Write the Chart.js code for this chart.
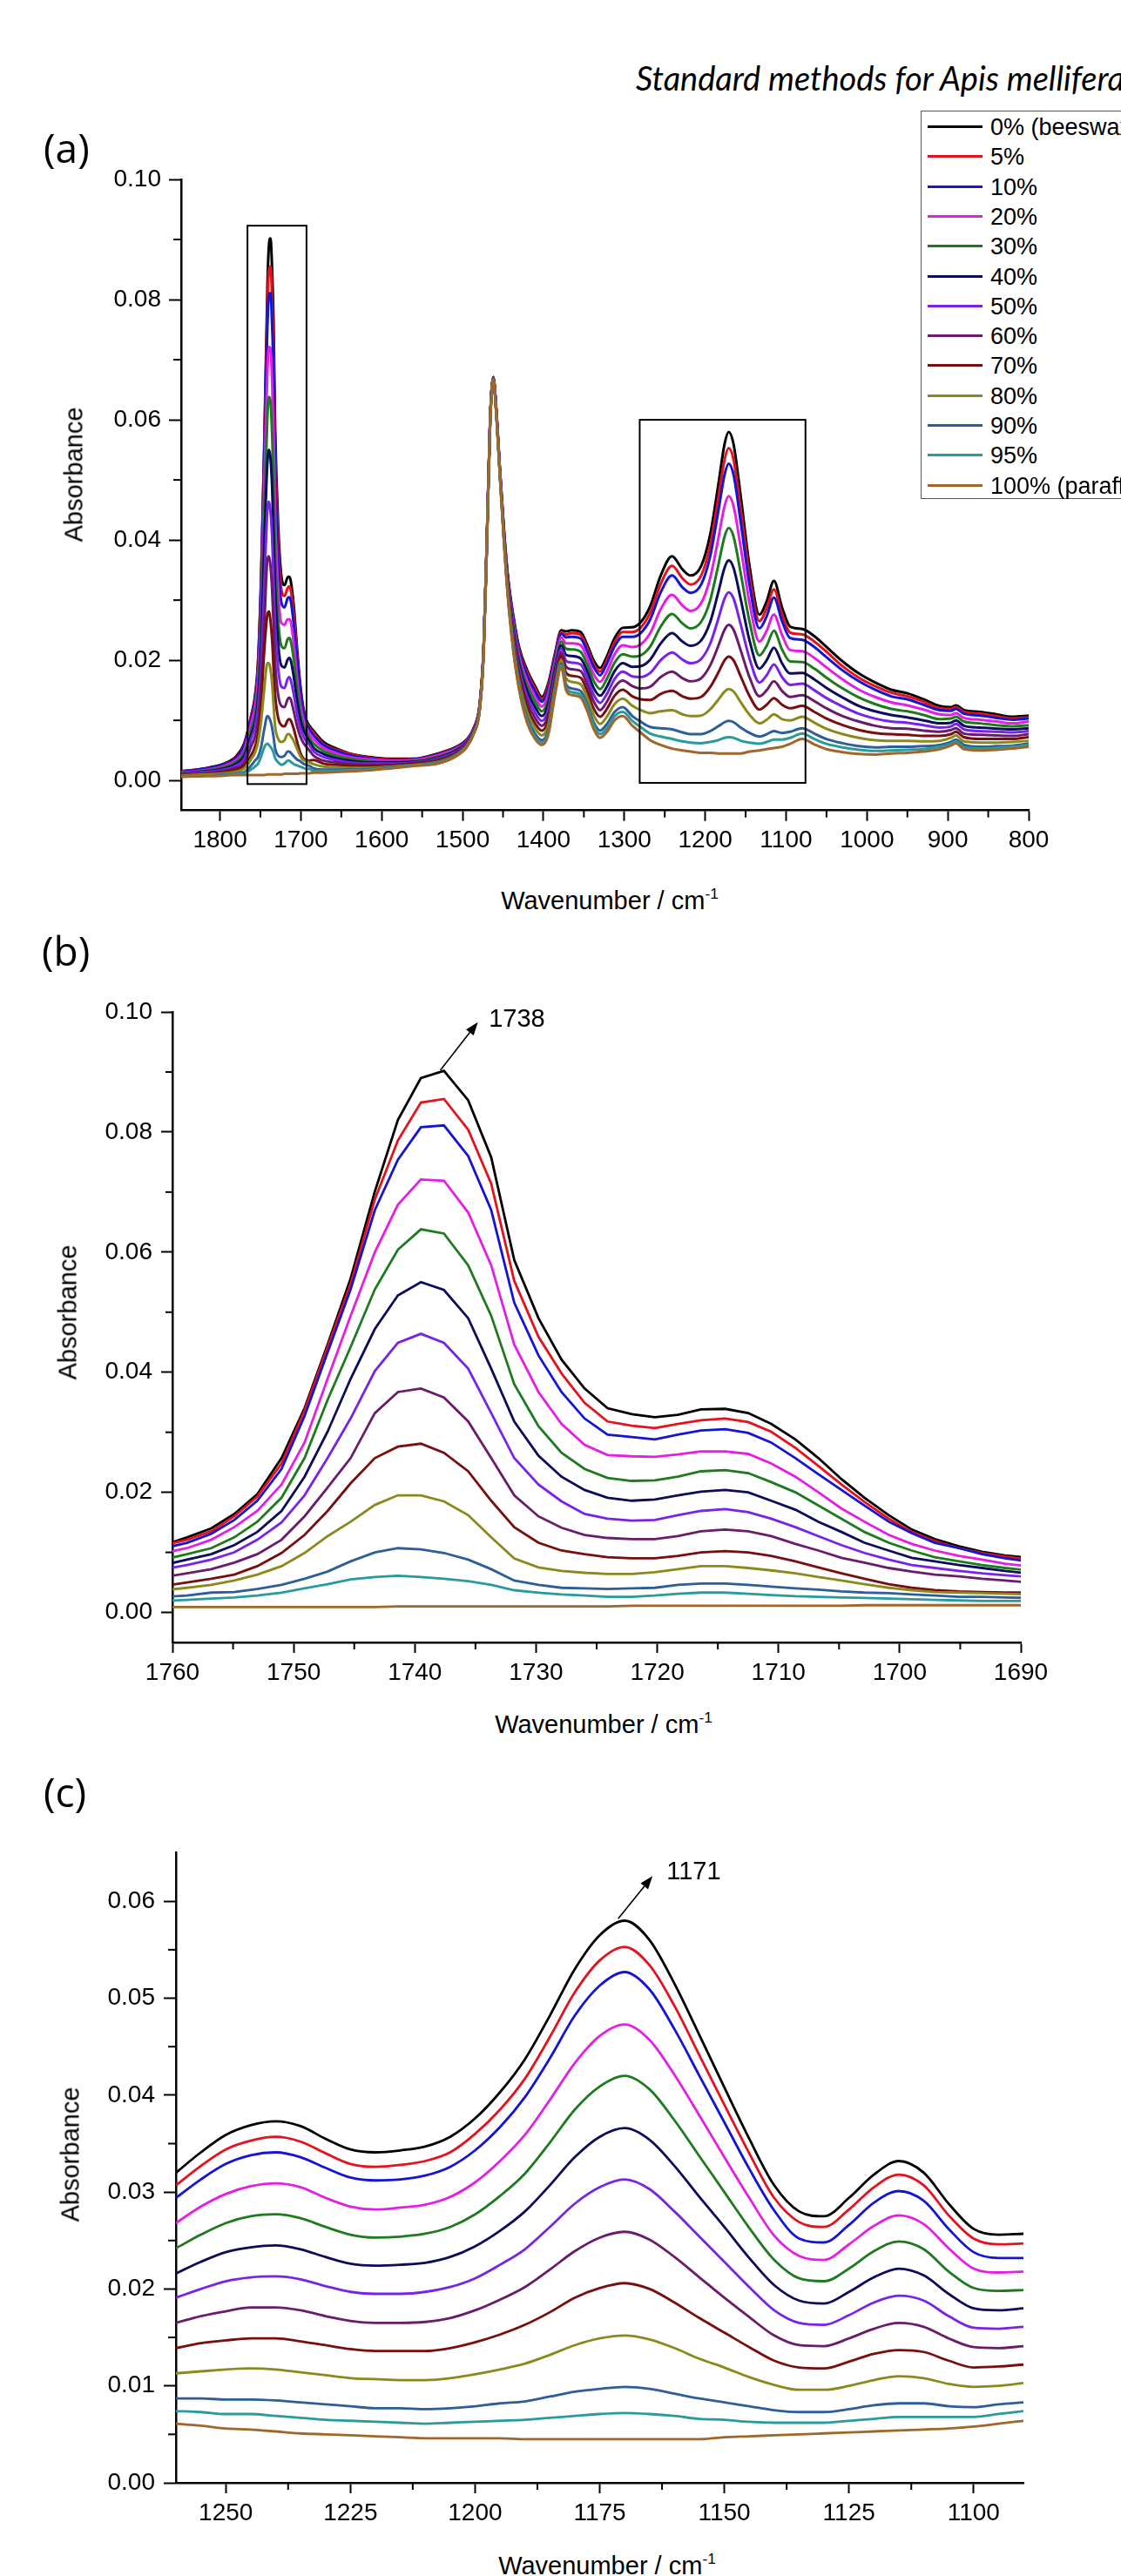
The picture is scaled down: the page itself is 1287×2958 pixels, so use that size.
<!DOCTYPE html>
<html>
<head>
<meta charset="utf-8">
<script src="https://cdn.jsdelivr.net/npm/chart.js@4.4.1/dist/chart.umd.min.js"></script>
<style>
html,body{margin:0;padding:0;background:#fff;}
body{width:1287px;height:2958px;overflow:hidden;position:relative;font-family:'Liberation Sans',Arial,sans-serif;color:#000;}
canvas{position:absolute;left:0;z-index:1;}
.t{position:absolute;white-space:nowrap;line-height:1;z-index:2;}
.yt{font-size:29px;transform:translate(-50%,-50%) rotate(-90deg);}
.xt{font-size:29px;transform:translate(-50%,-50%);}
.xt sup{font-size:0.6em;vertical-align:baseline;position:relative;top:-0.7em;}
.pl{font-family:'Open Sans',sans-serif;font-size:46px;}
.hd{font-family:Lato,'Open Sans',sans-serif;font-style:italic;font-size:38px;}
#legend{position:absolute;left:1057px;top:127px;width:300px;height:446px;border:1.5px solid #555;background:#fff;z-index:2;box-sizing:border-box;}
.li{position:absolute;left:7px;height:34px;width:290px;font-size:27px;line-height:34px;white-space:nowrap;}
.li span.sw{position:absolute;left:0;top:15px;width:63px;height:3px;}
.li span.lb{position:absolute;left:72px;top:0;}
</style>
</head>
<body>
<div class="t hd" style="left:730px;top:70px;">Standard methods for Apis mellifera</div>
<div class="t pl" style="left:50px;top:146px;">(a)</div>
<div class="t pl" style="left:48px;top:1068px;">(b)</div>
<div class="t pl" style="left:50px;top:2034px;">(c)</div>
<div class="t yt" style="left:85px;top:545px;">Absorbance</div>
<div class="t xt" style="left:700px;top:1034px;">Wavenumber / cm<sup>-1</sup></div>
<div class="t yt" style="left:78px;top:1507px;">Absorbance</div>
<div class="t xt" style="left:693px;top:1980px;">Wavenumber / cm<sup>-1</sup></div>
<div class="t yt" style="left:81px;top:2474px;">Absorbance</div>
<div class="t xt" style="left:697px;top:2946px;">Wavenumber / cm<sup>-1</sup></div>
<div id="legend"></div>
<canvas id="ca" width="1287" height="840" style="top:150px;"></canvas>
<canvas id="cb" width="1287" height="840" style="top:1100px;"></canvas>
<canvas id="cc" width="1287" height="830" style="top:2080px;"></canvas>
<script>
// ---------- series ----------
const seriesLabels = ['0% (beeswax)','5%','10%','20%','30%','40%','50%','60%','70%','80%','90%','95%','100% (paraffin)'];
const seriesColors = ['#000000','#e3121c','#1414d4','#e41ee4','#1e7a1e','#0c0c5a','#7824e8','#6a1c6a','#780e0e','#8a8a1c','#2e5e9a','#2a9a9a','#a0662a'];

// ---------- panel (a): full spectrum ----------
const waveA = [1850,1820,1795,1780,1770,
1760.7,1756.8,1753.0,1749.1,1745.3,1741.4,1739.5,1737.6,1735.6,1733.7,1731.8,1727.9,1724.1,1720.2,1716.4,1714.4,1712.5,1708.6,1704.8,1700.9,1697.1,1693.2,1689.4,
1684,1672,1656,1640,1615,1590,1560,1530,1508,1495,
1486,1479,1474,1470,1466,1462,1458,1454,1449,1444,
1437,1430,1420,1410,1402,1394,1386,1378,1372,1365,
1354,1346,1338,1330,1322,1312,1302,1290,1280,1268,
1255,1241,1228,1218,1205,1194,1184,1176,1171,1165,
1156,1145,1133,1124,1115,1105,1095,1080,1065,1050,
1030,1010,990,970,950,930,910,896,890,880,
860,840,820,800];

const a00 = [.0015,.0020,.0028,.0040,.0062,
.0112,.0140,.0197,.0340,.0556,.0820,.0890,.0902,.0853,.0758,.0587,.0421,.0340,.0325,.0338,.0339,.0332,.0288,.0222,.0162,.0122,.0101,.0091,
.0082,.0064,.0053,.0045,.0039,.0036,.0036,.0045,.0056,.0068,
.0088,.0125,.0220,.0400,.0600,.0671,.0610,.0520,.0420,.0340,
.0272,.0221,.0183,.0156,.0139,.0162,.0210,.0250,.0248,.0250,
.0247,.0226,.0200,.0187,.0205,.0237,.0254,.0255,.0263,.0290,
.0341,.0373,.0351,.0341,.0357,.0408,.0490,.0560,.0580,.0560,
.0472,.0355,.0276,.0298,.0332,.0288,.0256,.0252,.0240,.0222,
.0198,.0178,.0163,.0151,.0145,.0135,.0124,.0122,.0125,.0117,
.0114,.0110,.0106,.0108];
const a05 = [.0015,.0019,.0027,.0038,.0059,
.0112,.0135,.0193,.0336,.0547,.0786,.0849,.0855,.0804,.0714,.0552,.0398,.0318,.0307,.0320,.0323,.0317,.0274,.0213,.0156,.0119,.0099,.0088,
.0079,.0061,.0051,.0044,.0038,.0035,.0035,.0044,.0055,.0067,
.0088,.0125,.0220,.0400,.0600,.0671,.0610,.0520,.0419,.0338,
.0269,.0217,.0179,.0152,.0135,.0158,.0207,.0247,.0243,.0245,
.0242,.0221,.0194,.0181,.0199,.0230,.0247,.0247,.0254,.0279,
.0327,.0357,.0336,.0326,.0341,.0390,.0468,.0534,.0553,.0534,
.0451,.0340,.0265,.0286,.0318,.0276,.0246,.0243,.0231,.0214,
.0190,.0171,.0157,.0146,.0140,.0131,.0120,.0119,.0122,.0114,
.0111,.0107,.0103,.0105];
const a10 = [.0014,.0019,.0026,.0037,.0057,
.0107,.0131,.0186,.0327,.0538,.0754,.0808,.0811,.0760,.0670,.0516,.0367,.0296,.0288,.0303,.0305,.0299,.0257,.0204,.0151,.0116,.0097,.0085,
.0075,.0059,.0049,.0042,.0037,.0034,.0035,.0043,.0054,.0067,
.0087,.0124,.0219,.0399,.0599,.0671,.0609,.0519,.0418,.0337,
.0266,.0214,.0174,.0147,.0131,.0153,.0203,.0244,.0238,.0239,
.0236,.0215,.0189,.0175,.0193,.0223,.0239,.0239,.0245,.0268,
.0313,.0341,.0321,.0312,.0326,.0372,.0446,.0509,.0527,.0509,
.0429,.0324,.0253,.0273,.0304,.0265,.0237,.0234,.0222,.0205,
.0183,.0165,.0151,.0140,.0135,.0126,.0117,.0116,.0119,.0111,
.0108,.0104,.0101,.0103];
const a20 = [.0013,.0017,.0024,.0034,.0051,
.0099,.0121,.0169,.0283,.0494,.0679,.0721,.0719,.0666,.0578,.0446,.0314,.0262,.0259,.0268,.0268,.0264,.0226,.0173,.0129,.0103,.0088,.0077,
.0068,.0054,.0045,.0039,.0035,.0033,.0034,.0042,.0053,.0065,
.0086,.0123,.0218,.0398,.0598,.0670,.0609,.0518,.0416,.0333,
.0260,.0207,.0165,.0138,.0123,.0145,.0196,.0238,.0228,.0228,
.0225,.0204,.0177,.0164,.0180,.0210,.0225,.0222,.0226,.0245,
.0285,.0309,.0291,.0282,.0295,.0336,.0401,.0457,.0473,.0457,
.0387,.0294,.0231,.0249,.0276,.0242,.0217,.0215,.0204,.0188,
.0168,.0151,.0139,.0130,.0125,.0118,.0110,.0109,.0112,.0104,
.0101,.0098,.0095,.0098];
const a30 = [.0012,.0016,.0022,.0031,.0046,
.0088,.0107,.0151,.0257,.0442,.0604,.0638,.0631,.0578,.0494,.0380,.0266,.0224,.0220,.0235,.0237,.0232,.0200,.0156,.0116,.0092,.0079,.0070,
.0061,.0049,.0041,.0036,.0032,.0031,.0032,.0040,.0051,.0064,
.0085,.0122,.0218,.0397,.0598,.0670,.0608,.0517,.0414,.0330,
.0254,.0200,.0157,.0130,.0115,.0136,.0189,.0231,.0219,.0218,
.0214,.0193,.0166,.0152,.0168,.0196,.0210,.0206,.0208,.0223,
.0256,.0277,.0261,.0253,.0264,.0299,.0357,.0406,.0420,.0406,
.0344,.0263,.0208,.0224,.0249,.0218,.0198,.0197,.0186,.0171,
.0153,.0138,.0127,.0119,.0115,.0109,.0102,.0103,.0106,.0098,
.0095,.0092,.0090,.0092];
const a40 = [.0011,.0015,.0020,.0028,.0041,
.0079,.0097,.0134,.0226,.0389,.0528,.0550,.0537,.0490,.0406,.0318,.0226,.0191,.0188,.0201,.0204,.0200,.0171,.0134,.0103,.0085,.0074,.0065,
.0054,.0044,.0037,.0033,.0030,.0030,.0031,.0038,.0050,.0063,
.0084,.0121,.0217,.0396,.0597,.0669,.0607,.0516,.0412,.0326,
.0248,.0193,.0148,.0121,.0107,.0128,.0182,.0225,.0209,.0207,
.0203,.0182,.0154,.0141,.0155,.0182,.0195,.0189,.0190,.0201,
.0228,.0245,.0231,.0224,.0233,.0263,.0312,.0354,.0366,.0354,
.0301,.0232,.0186,.0200,.0221,.0195,.0178,.0179,.0168,.0154,
.0138,.0124,.0115,.0109,.0105,.0100,.0095,.0096,.0100,.0091,
.0088,.0086,.0085,.0087];
const a50 = [.0011,.0014,.0018,.0025,.0036,
.0072,.0088,.0121,.0195,.0323,.0449,.0464,.0449,.0406,.0332,.0257,.0185,.0156,.0154,.0169,.0172,.0167,.0142,.0112,.0088,.0074,.0065,.0059,
.0048,.0039,.0034,.0030,.0028,.0028,.0030,.0037,.0048,.0062,
.0083,.0120,.0216,.0395,.0596,.0669,.0607,.0515,.0410,.0323,
.0242,.0186,.0139,.0112,.0099,.0119,.0175,.0219,.0199,.0196,
.0193,.0171,.0143,.0129,.0143,.0169,.0181,.0173,.0172,.0179,
.0200,.0213,.0201,.0195,.0202,.0227,.0268,.0303,.0313,.0303,
.0259,.0202,.0163,.0175,.0193,.0172,.0159,.0161,.0150,.0137,
.0123,.0111,.0103,.0098,.0096,.0092,.0088,.0090,.0094,.0085,
.0082,.0081,.0080,.0082];
const a60 = [.0010,.0012,.0016,.0021,.0030,
.0059,.0072,.0097,.0160,.0257,.0367,.0373,.0358,.0318,.0257,.0195,.0141,.0124,.0122,.0135,.0138,.0135,.0114,.0091,.0074,.0063,.0056,.0050,
.0041,.0033,.0030,.0027,.0026,.0026,.0029,.0035,.0046,.0060,
.0082,.0119,.0215,.0394,.0595,.0669,.0606,.0514,.0408,.0319,
.0236,.0178,.0130,.0103,.0091,.0110,.0168,.0213,.0189,.0185,
.0182,.0160,.0132,.0117,.0130,.0155,.0166,.0157,.0153,.0156,
.0172,.0181,.0170,.0165,.0170,.0191,.0223,.0251,.0259,.0251,
.0216,.0171,.0140,.0150,.0165,.0149,.0139,.0142,.0132,.0120,
.0107,.0098,.0091,.0087,.0086,.0083,.0081,.0084,.0087,.0078,
.0076,.0075,.0074,.0077];
const a70 = [.0009,.0011,.0014,.0018,.0025,
.0044,.0056,.0077,.0129,.0215,.0276,.0281,.0266,.0235,.0186,.0142,.0103,.0092,.0090,.0100,.0102,.0100,.0085,.0065,.0047,.0037,.0034,.0033,
.0034,.0028,.0026,.0024,.0024,.0025,.0028,.0033,.0045,.0059,
.0081,.0118,.0214,.0393,.0594,.0668,.0605,.0513,.0406,.0316,
.0230,.0171,.0121,.0094,.0083,.0102,.0161,.0207,.0179,.0174,
.0171,.0149,.0120,.0106,.0118,.0141,.0151,.0140,.0135,.0134,
.0144,.0149,.0140,.0136,.0139,.0155,.0179,.0200,.0206,.0200,
.0173,.0140,.0118,.0126,.0137,.0126,.0120,.0124,.0114,.0103,
.0092,.0084,.0079,.0077,.0076,.0074,.0074,.0077,.0081,.0072,
.0069,.0069,.0069,.0072];
const a80 = [.0008,.0010,.0012,.0015,.0020,
.0037,.0046,.0063,.0099,.0151,.0195,.0195,.0185,.0162,.0125,.0090,.0069,.0064,.0067,.0077,.0077,.0074,.0065,.0053,.0041,.0034,.0032,.0030,
.0027,.0023,.0022,.0021,.0021,.0023,.0026,.0031,.0043,.0058,
.0080,.0117,.0214,.0392,.0594,.0668,.0604,.0512,.0404,.0312,
.0224,.0164,.0113,.0086,.0075,.0093,.0154,.0200,.0170,.0164,
.0160,.0138,.0109,.0094,.0105,.0127,.0136,.0124,.0117,.0112,
.0115,.0117,.0110,.0107,.0108,.0118,.0134,.0148,.0152,.0148,
.0130,.0109,.0095,.0101,.0110,.0102,.0100,.0106,.0096,.0086,
.0077,.0071,.0067,.0066,.0066,.0065,.0066,.0071,.0075,.0065,
.0063,.0063,.0064,.0066];
const a90 = [.0007,.0008,.0010,.0012,.0014,
.0026,.0033,.0039,.0056,.0085,.0107,.0105,.0099,.0088,.0072,.0053,.0041,.0039,.0041,.0048,.0048,.0046,.0040,.0035,.0032,.0028,.0026,.0024,
.0020,.0018,.0018,.0018,.0019,.0022,.0025,.0030,.0042,.0056,
.0079,.0116,.0213,.0391,.0593,.0667,.0604,.0511,.0402,.0309,
.0218,.0157,.0104,.0077,.0067,.0085,.0147,.0194,.0160,.0153,
.0149,.0127,.0097,.0083,.0093,.0114,.0122,.0107,.0098,.0089,
.0087,.0085,.0080,.0077,.0077,.0082,.0090,.0097,.0099,.0097,
.0088,.0079,.0073,.0077,.0082,.0079,.0081,.0087,.0078,.0069,
.0062,.0057,.0055,.0056,.0056,.0057,.0059,.0064,.0068,.0059,
.0056,.0057,.0058,.0061];
const a95 = [.0006,.0008,.0009,.0011,.0012,
.0019,.0023,.0028,.0040,.0055,.0061,.0059,.0056,.0052,.0046,.0037,.0030,.0026,.0028,.0033,.0033,.0031,.0027,.0025,.0023,.0021,.0019,.0019,
.0016,.0016,.0016,.0017,.0018,.0021,.0025,.0029,.0041,.0056,
.0079,.0116,.0212,.0391,.0592,.0667,.0603,.0511,.0401,.0307,
.0215,.0154,.0099,.0072,.0063,.0080,.0144,.0191,.0155,.0147,
.0143,.0122,.0092,.0077,.0086,.0107,.0114,.0099,.0089,.0078,
.0073,.0069,.0065,.0063,.0062,.0064,.0067,.0071,.0072,.0071,
.0066,.0063,.0061,.0064,.0068,.0068,.0071,.0078,.0069,.0061,
.0055,.0051,.0049,.0050,.0051,.0052,.0056,.0061,.0065,.0055,
.0053,.0054,.0056,.0059];
const a100 = [.0006,.0007,.0008,.0009,.0009,
.0009,.0009,.0009,.0009,.0009,.0010,.0010,.0010,.0010,.0010,.0010,.0010,.0010,.0011,.0011,.0011,.0011,.0011,.0011,.0012,.0012,.0012,.0012,
.0013,.0013,.0014,.0015,.0017,.0020,.0024,.0028,.0040,.0055,
.0078,.0115,.0212,.0390,.0592,.0667,.0603,.0510,.0400,.0305,
.0212,.0150,.0095,.0068,.0059,.0076,.0140,.0188,.0150,.0142,
.0138,.0116,.0086,.0071,.0080,.0100,.0107,.0091,.0080,.0067,
.0059,.0053,.0050,.0048,.0046,.0046,.0045,.0045,.0045,.0045,
.0045,.0048,.0050,.0052,.0054,.0056,.0061,.0069,.0060,.0052,
.0047,.0044,.0043,.0045,.0046,.0048,.0052,.0058,.0062,.0052,
.0050,.0051,.0053,.0056];

// ---------- panel (b): 1760-1690 ----------
const waveB = [1760.7,1758.8,1756.8,1754.9,1753.0,1751.0,1749.1,1747.2,1745.3,1743.3,1741.4,1739.5,1737.6,1735.6,1733.7,1731.8,1729.8,1727.9,1726.0,1724.1,
1722.1,1720.2,1718.3,1716.4,1714.4,1712.5,1710.6,1708.6,1706.7,1704.8,1702.9,1700.9,1699.0,1697.1,1695.1,1693.2,1691.3,1689.4];
const b00 = [.0112,.0125,.0140,.0164,.0197,.0257,.0340,.0446,.0556,.0701,.0820,.0890,.0902,.0853,.0758,.0587,.0490,.0421,.0373,.0340,
.0330,.0325,.0329,.0338,.0339,.0332,.0314,.0288,.0257,.0222,.0191,.0162,.0138,.0122,.0110,.0101,.0095,.0091];
const b05 = [.0112,.0121,.0135,.0160,.0193,.0248,.0336,.0442,.0547,.0688,.0786,.0849,.0855,.0804,.0714,.0552,.0459,.0398,.0349,.0318,
.0311,.0307,.0314,.0320,.0323,.0317,.0301,.0274,.0244,.0213,.0184,.0156,.0134,.0119,.0107,.0099,.0093,.0088];
const b10 = [.0107,.0116,.0131,.0154,.0186,.0239,.0327,.0433,.0538,.0670,.0754,.0808,.0811,.0760,.0670,.0516,.0428,.0367,.0323,.0296,
.0292,.0288,.0296,.0303,.0305,.0299,.0283,.0257,.0230,.0204,.0178,.0151,.0132,.0116,.0107,.0097,.0090,.0085];
const b20 = [.0099,.0107,.0121,.0142,.0169,.0213,.0283,.0389,.0494,.0600,.0679,.0721,.0719,.0666,.0578,.0446,.0367,.0314,.0279,.0262,
.0260,.0259,.0263,.0268,.0268,.0264,.0248,.0226,.0200,.0173,.0151,.0129,.0114,.0103,.0094,.0088,.0081,.0077];
const b30 = [.0088,.0097,.0107,.0125,.0151,.0191,.0257,.0354,.0442,.0538,.0604,.0638,.0631,.0578,.0494,.0380,.0310,.0266,.0239,.0224,
.0219,.0220,.0226,.0235,.0237,.0232,.0217,.0200,.0178,.0156,.0134,.0116,.0103,.0092,.0085,.0079,.0074,.0070];
const b40 = [.0079,.0088,.0097,.0112,.0134,.0169,.0226,.0301,.0389,.0472,.0528,.0550,.0537,.0490,.0406,.0318,.0261,.0226,.0204,.0191,
.0186,.0188,.0195,.0201,.0204,.0200,.0186,.0171,.0151,.0134,.0116,.0103,.0091,.0085,.0079,.0074,.0069,.0065];
const b50 = [.0072,.0079,.0088,.0100,.0121,.0150,.0195,.0257,.0323,.0402,.0449,.0464,.0449,.0406,.0332,.0257,.0213,.0185,.0164,.0156,
.0153,.0154,.0162,.0169,.0172,.0167,.0156,.0142,.0127,.0112,.0099,.0088,.0079,.0074,.0069,.0065,.0062,.0059];
const b60 = [.0059,.0065,.0072,.0083,.0097,.0121,.0160,.0208,.0257,.0332,.0367,.0373,.0358,.0318,.0257,.0195,.0160,.0141,.0129,.0124,
.0122,.0122,.0127,.0135,.0138,.0135,.0127,.0114,.0103,.0091,.0083,.0074,.0068,.0063,.0060,.0056,.0053,.0050];
const b70 = [.0044,.0050,.0056,.0063,.0077,.0099,.0129,.0169,.0215,.0257,.0276,.0281,.0266,.0235,.0186,.0142,.0116,.0103,.0097,.0092,
.0090,.0090,.0094,.0100,.0102,.0100,.0094,.0085,.0075,.0065,.0056,.0047,.0041,.0037,.0035,.0034,.0033,.0033];
const b80 = [.0037,.0041,.0046,.0053,.0063,.0077,.0099,.0127,.0151,.0179,.0195,.0195,.0185,.0162,.0125,.0090,.0075,.0069,.0066,.0064,
.0064,.0067,.0072,.0077,.0077,.0074,.0070,.0065,.0059,.0053,.0047,.0041,.0037,.0034,.0033,.0032,.0031,.0030];
const b90 = [.0026,.0028,.0033,.0034,.0039,.0046,.0056,.0068,.0085,.0100,.0107,.0105,.0099,.0088,.0072,.0053,.0046,.0041,.0040,.0039,
.0040,.0041,.0046,.0048,.0048,.0046,.0043,.0040,.0038,.0035,.0033,.0032,.0030,.0028,.0026,.0026,.0025,.0024];
const b95 = [.0019,.0021,.0023,.0025,.0028,.0033,.0040,.0047,.0055,.0059,.0061,.0059,.0056,.0052,.0046,.0037,.0033,.0030,.0028,.0026,
.0026,.0028,.0031,.0033,.0033,.0031,.0029,.0027,.0026,.0025,.0024,.0023,.0022,.0021,.0020,.0019,.0019,.0019];
const b100 = [.0009,.0009,.0009,.0009,.0009,.0009,.0009,.0009,.0009,.0009,.0010,.0010,.0010,.0010,.0010,.0010,.0010,.0010,.0010,.0010,
.0011,.0011,.0011,.0011,.0011,.0011,.0011,.0011,.0011,.0011,.0012,.0012,.0012,.0012,.0012,.0012,.0012,.0012];

// ---------- panel (c): 1260-1090 ----------
const waveC = [1260,1255,1250,1245,1240,1235,1230,1225,1220,1215,1210,1205,1200,1195,1190,1185,1180,1175,1170,1165,1160,1155,1150,1145,1140,1135,1130,1125,1120,1115,1110,1105,1100,1095,1090];
const c00 = [.0320,.0341,.0359,.0369,.0373,.0368,.0355,.0344,.0341,.0343,.0347,.0357,.0376,.0403,.0437,.0482,.0530,.0565,.0580,.0560,.0515,.0462,.0408,.0355,.0307,.0280,.0275,.0294,.0318,.0332,.0320,.0288,.0262,.0256,.0257];
const c05 = [.0307,.0327,.0344,.0353,.0357,.0352,.0340,.0329,.0326,.0328,.0332,.0341,.0360,.0385,.0417,.0460,.0506,.0539,.0553,.0534,.0492,.0441,.0390,.0340,.0294,.0269,.0264,.0282,.0305,.0318,.0307,.0276,.0252,.0246,.0247];
const c10 = [.0294,.0313,.0329,.0338,.0341,.0336,.0325,.0315,.0312,.0313,.0317,.0326,.0343,.0367,.0398,.0438,.0482,.0513,.0527,.0509,.0468,.0420,.0372,.0324,.0281,.0252,.0248,.0266,.0289,.0301,.0291,.0262,.0238,.0232,.0232];
const c20 = [.0268,.0285,.0298,.0306,.0309,.0305,.0294,.0285,.0282,.0284,.0287,.0295,.0310,.0332,.0359,.0395,.0433,.0461,.0473,.0457,.0421,.0379,.0336,.0294,.0255,.0234,.0230,.0246,.0265,.0276,.0267,.0242,.0221,.0217,.0218];
const c30 = [.0242,.0256,.0268,.0275,.0277,.0273,.0264,.0256,.0253,.0254,.0257,.0264,.0277,.0296,.0319,.0351,.0385,.0409,.0420,.0406,.0374,.0337,.0300,.0263,.0230,.0211,.0208,.0221,.0239,.0249,.0241,.0218,.0201,.0198,.0199];
const c40 = [.0216,.0228,.0238,.0243,.0245,.0241,.0233,.0226,.0224,.0225,.0227,.0233,.0244,.0260,.0280,.0307,.0336,.0357,.0366,.0354,.0327,.0295,.0264,.0232,.0204,.0188,.0185,.0197,.0212,.0221,.0214,.0195,.0180,.0178,.0180];
const c50 = [.0191,.0200,.0208,.0212,.0213,.0210,.0203,.0197,.0195,.0195,.0197,.0202,.0211,.0225,.0241,.0264,.0288,.0305,.0313,.0303,.0280,.0254,.0228,.0202,.0178,.0165,.0163,.0173,.0186,.0193,.0188,.0172,.0160,.0159,.0161];
const c60 = [.0165,.0172,.0177,.0181,.0181,.0178,.0172,.0167,.0165,.0165,.0166,.0170,.0178,.0189,.0202,.0220,.0239,.0253,.0259,.0251,.0233,.0212,.0191,.0171,.0152,.0142,.0141,.0149,.0159,.0165,.0161,.0149,.0140,.0139,.0141];
const c70 = [.0139,.0144,.0147,.0149,.0149,.0146,.0142,.0138,.0136,.0136,.0136,.0139,.0145,.0153,.0163,.0176,.0191,.0201,.0206,.0200,.0186,.0170,.0155,.0140,.0126,.0119,.0118,.0125,.0133,.0137,.0135,.0126,.0119,.0120,.0122];
const c80 = [.0113,.0115,.0117,.0118,.0117,.0114,.0111,.0108,.0107,.0106,.0106,.0108,.0112,.0117,.0123,.0132,.0142,.0149,.0152,.0148,.0139,.0128,.0119,.0109,.0101,.0096,.0096,.0100,.0106,.0110,.0108,.0102,.0099,.0100,.0103];
const c90 = [.0087,.0087,.0086,.0086,.0085,.0083,.0081,.0079,.0077,.0077,.0076,.0077,.0079,.0082,.0084,.0089,.0094,.0097,.0099,.0097,.0092,.0087,.0083,.0079,.0075,.0073,.0073,.0076,.0080,.0082,.0082,.0079,.0078,.0081,.0083];
const c95 = [.0074,.0073,.0071,.0071,.0069,.0067,.0065,.0064,.0063,.0062,.0061,.0062,.0063,.0064,.0065,.0067,.0069,.0071,.0072,.0071,.0069,.0066,.0065,.0063,.0062,.0062,.0062,.0064,.0066,.0068,.0068,.0068,.0068,.0071,.0074];
const c100 = [.0061,.0059,.0056,.0055,.0053,.0051,.0050,.0049,.0048,.0047,.0046,.0046,.0046,.0046,.0045,.0045,.0045,.0045,.0045,.0045,.0045,.0045,.0047,.0048,.0049,.0050,.0051,.0052,.0053,.0054,.0055,.0056,.0058,.0061,.0064];

// ---------- ticks ----------
const xMajorA = [1800,1700,1600,1500,1400,1300,1200,1100,1000,900,800];
const xMinorA = [1750,1650,1550,1450,1350,1250,1150,1050,950,850];
const yMajorAB = [0,0.02,0.04,0.06,0.08,0.10];
const yMinorAB = [0.01,0.03,0.05,0.07,0.09];
const xMajorB = [1760,1750,1740,1730,1720,1710,1700,1690];
const xMinorB = [1755,1745,1735,1725,1715,1705,1695];
const xMajorC = [1250,1225,1200,1175,1150,1125,1100];
const xMinorC = [1237.5,1212.5,1187.5,1162.5,1137.5,1112.5];
const yMajorC = [0,0.01,0.02,0.03,0.04,0.05,0.06];
const yMinorC = [0.005,0.015,0.025,0.035,0.045,0.055];

// annotation marks, in data units
const boxesA = [{x1:1766,x2:1693,y1:-0.0006,y2:0.0923},{x1:1281,x2:1076,y1:-0.0004,y2:0.0600}];
const arrowB = {from:[1737.9,0.0903], to:[1734.8,0.0983], label:'1738', at:[1733.9,0.0987]};
const arrowC = {from:[1171.3,0.0582], to:[1164.4,0.0626], label:'1171', at:[1161.6,0.0630]};

// ---------- legend (HTML) ----------
const leg = document.getElementById('legend');
seriesLabels.forEach((lab,i)=>{
  const d=document.createElement('div'); d.className='li'; d.style.top=(1+i*34.3)+'px';
  const s=document.createElement('span'); s.className='sw'; s.style.background=seriesColors[i];
  const l=document.createElement('span'); l.className='lb'; l.textContent=lab;
  d.appendChild(s); d.appendChild(l); leg.appendChild(d);
});

// ---------- Chart.js ----------
Chart.defaults.font.family = "'Liberation Sans', Arial, sans-serif";
Chart.defaults.color = '#000';

const minorTicks = {
  id:'minorTicks',
  afterDraw(chart,args,o){
    const ctx=chart.ctx, xs=chart.scales.x, ys=chart.scales.y;
    ctx.save(); ctx.strokeStyle='#000'; ctx.lineWidth=2;
    (o.x||[]).forEach(v=>{const p=xs.getPixelForValue(v); ctx.beginPath(); ctx.moveTo(p,xs.top); ctx.lineTo(p,xs.top+o.xLen); ctx.stroke();});
    (o.y||[]).forEach(v=>{const p=ys.getPixelForValue(v); ctx.beginPath(); ctx.moveTo(ys.right,p); ctx.lineTo(ys.right-o.yLen,p); ctx.stroke();});
    ctx.restore();
  }
};
const zoomBoxes = {
  id:'zoomBoxes',
  afterDatasetsDraw(chart,args,o){
    if(!o.boxes) return;
    const ctx=chart.ctx, xs=chart.scales.x, ys=chart.scales.y;
    ctx.save(); ctx.strokeStyle='#000'; ctx.lineWidth=2;
    o.boxes.forEach(b=>{
      const x1=xs.getPixelForValue(b.x1), x2=xs.getPixelForValue(b.x2);
      const y1=ys.getPixelForValue(b.y1), y2=ys.getPixelForValue(b.y2);
      ctx.strokeRect(Math.min(x1,x2),Math.min(y1,y2),Math.abs(x2-x1),Math.abs(y2-y1));
    });
    ctx.restore();
  }
};
const peakArrow = {
  id:'peakArrow',
  afterDatasetsDraw(chart,args,o){
    if(!o.label) return;
    const ctx=chart.ctx, xs=chart.scales.x, ys=chart.scales.y;
    const x1=xs.getPixelForValue(o.from[0]), y1=ys.getPixelForValue(o.from[1]);
    const x2=xs.getPixelForValue(o.to[0]), y2=ys.getPixelForValue(o.to[1]);
    const ang=Math.atan2(y2-y1,x2-x1), hl=15, hw=5.5;
    const bx=x2-hl*Math.cos(ang), by=y2-hl*Math.sin(ang);
    ctx.save(); ctx.strokeStyle='#000'; ctx.fillStyle='#000'; ctx.lineWidth=1.6;
    ctx.beginPath(); ctx.moveTo(x1,y1); ctx.lineTo(bx,by); ctx.stroke();
    ctx.beginPath(); ctx.moveTo(x2,y2);
    ctx.lineTo(bx+hw*Math.sin(ang), by-hw*Math.cos(ang));
    ctx.lineTo(bx-hw*Math.sin(ang), by+hw*Math.cos(ang));
    ctx.closePath(); ctx.fill();
    ctx.font="29px 'Liberation Sans', Arial, sans-serif"; ctx.textAlign='left'; ctx.textBaseline='middle';
    ctx.fillText(o.label, xs.getPixelForValue(o.at[0]), ys.getPixelForValue(o.at[1]));
    ctx.restore();
  }
};

function axis(isX,min,max,major,fmt,size,tickLen,pad){
  return {
    type:'linear', min, max, reverse:isX,
    afterBuildTicks:s=>{ s.ticks = major.map(v=>({value:v})); },
    afterFit:s=>{ if(isX) s.height=size; else s.width=size; },
    ticks:{ callback:v=>fmt(v), font:{size:28}, color:'#000', padding:pad, autoSkip:false, maxRotation:0, minRotation:0 },
    grid:{ display:true, drawOnChartArea:false, drawTicks:true, tickLength:tickLen, tickWidth:2, tickColor:'#000' },
    border:{ display:true, color:'#000', width:2.5 }
  };
}
function makeDatasets(wave, series, width, smooth){
  return series.map((arr,i)=>({
    label:seriesLabels[i],
    data:arr.map((y,j)=>({x:wave[j], y})),
    borderColor:seriesColors[i], backgroundColor:seriesColors[i],
    borderWidth:width, pointRadius:0, fill:false,
    cubicInterpolationMode: smooth ? 'monotone' : 'default', tension:0,
    order: series.length-1-i
  }));
}
function makeChart(id, datasets, scales, padding, pluginOpts, plugins){
  return new Chart(document.getElementById(id), {
    type:'line',
    data:{datasets},
    options:{
      responsive:false, animation:false, devicePixelRatio:1,
      layout:{padding, autoPadding:false},
      scales,
      plugins:Object.assign({legend:{display:false}, tooltip:{enabled:false}}, pluginOpts)
    },
    plugins
  });
}
const fmtY = v => Number(v).toFixed(2);
const fmtX = v => String(v);

// panel (a)
makeChart('ca',
  makeDatasets(waveA,[a00,a05,a10,a20,a30,a40,a50,a60,a70,a80,a90,a95,a100],3,true),
  { x:axis(true,800,1848,xMajorA,fmtX,59.3,12,6), y:axis(false,-0.005,0.10,yMajorAB,fmtY,208,14,9) },
  {left:0,top:56,right:106,bottom:0},
  { minorTicks:{x:xMinorA,y:yMinorAB,xLen:8,yLen:9}, zoomBoxes:{boxes:boxesA} },
  [minorTicks,zoomBoxes]);

// panel (b)
makeChart('cb',
  makeDatasets(waveB,[b00,b05,b10,b20,b30,b40,b50,b60,b70,b80,b90,b95,b100],2.8,false),
  { x:axis(true,1690,1760,xMajorB,fmtX,54,12,6), y:axis(false,-0.005,0.10,yMajorAB,fmtY,198,13,10) },
  {left:0,top:62,right:115,bottom:0},
  { minorTicks:{x:xMinorB,y:yMinorAB,xLen:8,yLen:8}, peakArrow:arrowB },
  [minorTicks,peakArrow]);

// panel (c)
makeChart('cc',
  makeDatasets(waveC,[c00,c05,c10,c20,c30,c40,c50,c60,c70,c80,c90,c95,c100],2.8,true),
  { x:axis(true,1090,1260,xMajorC,fmtX,59,12,6), y:axis(false,0,0.065,yMajorC,fmtY,202,14,10) },
  {left:0,top:47.6,right:112,bottom:0},
  { minorTicks:{x:xMinorC,y:yMinorC,xLen:8,yLen:9}, peakArrow:arrowC },
  [minorTicks,peakArrow]);
</script>
</body>
</html>
